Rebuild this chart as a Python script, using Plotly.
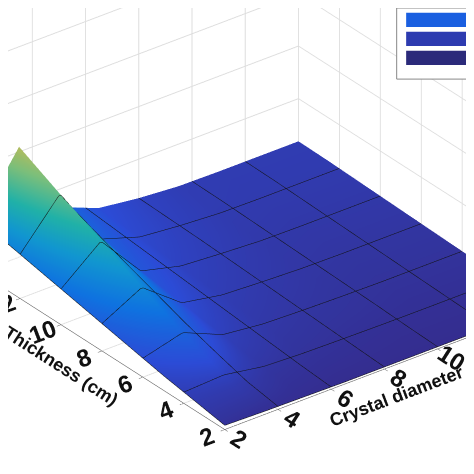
import plotly.graph_objects as go

diameter = [2, 3.5, 5, 6.5, 8, 9.5, 11, 12.5, 14]
thickness = [2, 3.5, 5, 6.5, 8, 9.5, 11, 12.5, 14]
# rows: thickness, cols: diameter
z = [
    [0.4, 0.3, 0.25, 0.2, 0.2, 0.2, 0.2, 0.2, 0.2],
    [0.9, 0.9, 0.5, 0.4, 0.35, 0.3, 0.3, 0.3, 0.3],
    [1.4, 2.0, 0.9, 0.6, 0.5, 0.45, 0.4, 0.4, 0.4],
    [2.0, 3.2, 1.3, 0.8, 0.65, 0.55, 0.5, 0.5, 0.5],
    [2.6, 4.6, 1.7, 1.0, 0.8, 0.65, 0.6, 0.6, 0.6],
    [3.2, 6.0, 2.1, 1.2, 0.95, 0.75, 0.7, 0.7, 0.7],
    [3.8, 7.5, 2.5, 1.4, 1.1, 0.85, 0.8, 0.8, 0.8],
    [4.4, 9.0, 2.9, 1.6, 1.2, 0.95, 0.9, 0.9, 0.9],
    [5.0, 10.5, 3.3, 1.8, 1.3, 1.0, 0.95, 0.95, 0.95],
]
parula = [[0, '#352a87'], [0.12, '#2c4bd6'], [0.25, '#0f72e0'], [0.38, '#1196d0'],
          [0.5, '#20b1a8'], [0.65, '#7cbf7b'], [0.82, '#d8ba4a'], [1, '#f9fb0e']]

fig = go.Figure(go.Surface(
    x=diameter, y=thickness, z=z, colorscale=parula, cmin=0, cmax=14, showscale=False,
    contours=dict(x=dict(show=True, color='#111', width=1, highlight=False),
                  y=dict(show=True, color='#111', width=1, highlight=False)),
    lighting=dict(ambient=0.9, diffuse=0.2, specular=0.05), hoverinfo='skip'))

ax = dict(showbackground=False, gridcolor='#dddddd', linecolor='#444', showline=True,
          tickfont=dict(family='Liberation Sans', size=17, color='#111'), ticks='outside')
tfont = dict(size=18, family='Liberation Sans', color='#111')
S = 1.7
fig.update_layout(
    width=474, height=474, margin=dict(l=0, r=0, t=0, b=0), paper_bgcolor='white',
    scene=dict(
        xaxis=dict(ax, title=dict(text='<b>Crystal diameter (cm)</b>', font=tfont),
                   tickvals=[2, 4, 6, 8, 10, 12, 14], ticktext=['<b>%d</b>' % v for v in [2, 4, 6, 8, 10, 12, 14]], range=[2, 14]),
        yaxis=dict(ax, title=dict(text='<b>Thickness (cm)</b>', font=tfont),
                   tickvals=[2, 4, 6, 8, 10, 12, 14], ticktext=['<b>%d</b>' % v for v in [2, 4, 6, 8, 10, 12, 14]], range=[2, 14]),
        zaxis=dict(ax, title=dict(text=''), showticklabels=False, range=[0, 30]),
        aspectmode='manual', aspectratio=dict(x=S, y=S, z=0.9 * S),
        camera=dict(eye=dict(x=-0.75, y=-0.86, z=0.1), center=dict(x=-0.05, y=0.05, z=-0.55),
                    projection=dict(type='orthographic'))),
    shapes=[dict(type='rect', xref='paper', yref='paper', x0=0.82, x1=1.0, y0=0.85, y1=1.0,
                 line=dict(color='#888', width=1), fillcolor='white')] +
           [dict(type='rect', xref='paper', yref='paper', x0=0.84, x1=1.0, y0=0.96 - i*0.04, y1=0.99 - i*0.04,
                 line=dict(width=0), fillcolor=c) for i, c in enumerate(['#1a5fe0', '#2d3bb0', '#2b2a7a'])],
)
fig.write_html('out.html')
